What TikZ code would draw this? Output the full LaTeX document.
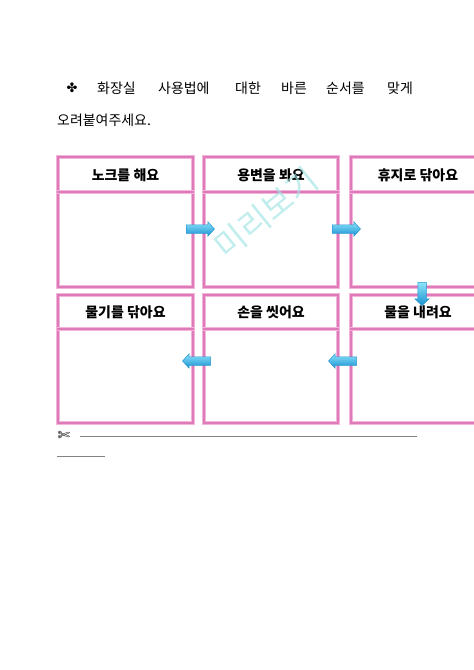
\documentclass[tikz,border=0pt]{standalone}
\usepackage{fontspec}
\usetikzlibrary{shapes.arrows,calc}
\newfontfamily\kr{Noto Sans CJK KR}
\newfontfamily\dv{DejaVu Sans}
\definecolor{boxpink}{RGB}{222,122,184}
\definecolor{boxpinkl}{RGB}{242,180,218}
\definecolor{arrtop}{RGB}{140,228,250}
\definecolor{arrbot}{RGB}{25,145,210}
\definecolor{arredge}{RGB}{40,150,210}
\definecolor{wmcol}{RGB}{160,228,228}
\definecolor{cutgray}{RGB}{130,130,130}
\begin{document}
\begin{tikzpicture}[x=1bp,y=-1bp,
  cell/.style={draw=boxpink, line width=2bp, inner sep=0pt,
    minimum width=#1, preaction={draw=boxpinkl, line width=3.6bp}},
  hline/.style={draw=boxpink, line width=2bp, preaction={draw=boxpinkl, line width=3.6bp}},
  lab/.style={font=\kr\bfseries\fontsize{14}{14}\selectfont, inner sep=0pt},
  title/.style={font=\kr\fontsize{14}{14}\selectfont, anchor=west, inner sep=0pt},
  blockarrow/.style={single arrow, inner sep=4bp, minimum height=28bp,
    single arrow head extend=3bp, single arrow tip angle=95,
    top color=arrtop, bottom color=arrbot, draw=arredge, line width=0.5bp},
  cutline/.style={draw=cutgray, line width=1bp}]
\clip (0,0) rectangle (474,670);
\fill[white] (0,0) rectangle (474,670);

% title
\node[font=\dv\fontsize{13}{13}\selectfont, inner sep=0pt] (sym) at (72,88) {✤};
\node[title] (w1) at (97,88) {화장실};
\node[title] (w2) at (158,88) {사용법에};
\node[title] (w3) at (235,88) {대한};
\node[title] (w4) at (281,88) {바른};
\node[title] (w5) at (326,88) {순서를};
\node[title] (w6) at (387,88) {맞게};
\node[title] (w7) at (57,120) {오려붙여주세요.};

% boxes row 1
\node[cell=135bp, minimum height=130bp] (b1) at (125.5,222) {};
\node[cell=134bp, minimum height=130bp] (b2) at (271,222) {};
\node[cell=134bp, minimum height=130bp] (b3) at (418,222) {};
% boxes row 2
\node[cell=135bp, minimum height=128bp] (b4) at (125.5,359) {};
\node[cell=134bp, minimum height=128bp] (b5) at (271,359) {};
\node[cell=134bp, minimum height=128bp] (b6) at (418,359) {};

\foreach \b in {b1,b2,b3}
  \draw[hline] ([yshift=-36bp]\b.north west) -- ([yshift=-36bp]\b.north east);
\foreach \b in {b4,b5,b6}
  \draw[hline] ([yshift=-35bp]\b.north west) -- ([yshift=-35bp]\b.north east);

% labels
\node[lab] (l1) at ([yshift=-19bp]b1.north) {노크를 해요};
\node[lab] (l2) at ([yshift=-19bp]b2.north) {용변을 봐요};
\node[lab] (l3) at ([yshift=-19bp]b3.north) {휴지로 닦아요};
\node[lab] (l4) at ([yshift=-18bp]b4.north) {물기를 닦아요};
\node[lab] (l5) at ([yshift=-18bp]b5.north) {손을 씻어요};
\node[lab] (l6) at ([yshift=-18bp]b6.north) {물을 내려요};

% watermark
\node[rotate=39, text=wmcol, opacity=0.65, inner sep=0pt,
  font=\kr\fontsize{33}{33}\selectfont] (wm) at (266,213) {미리보기};

% arrows
\node[blockarrow] (a1) at ([yshift=-7bp]$(b1.east)!0.5!(b2.west)$) {};
\node[blockarrow] (a2) at ([yshift=-7bp]$(b2.east)!0.5!(b3.west)$) {};
\node[blockarrow, shape border rotate=270, minimum height=23bp] (a3) at ($(b3.south)!0.5!(b6.north)+(4,1)$) {};
\node[blockarrow, shape border rotate=180] (a4) at ([yshift=-2bp]$(b5.east)!0.5!(b6.west)$) {};
\node[blockarrow, shape border rotate=180] (a5) at ([yshift=-2bp]$(b4.east)!0.5!(b5.west)$) {};

% cut line
\node[font=\dv\fontsize{15}{15}\selectfont, inner sep=0pt] (sc) at (64,436) {✄};
\coordinate (c1) at (80,436);
\coordinate (c2) at (417,436);
\coordinate (c3) at (57,456);
\coordinate (c4) at (105,456);
\draw[cutline] (c1) -- (c2);
\draw[cutline] (c3) -- (c4);
\end{tikzpicture}
\end{document}
